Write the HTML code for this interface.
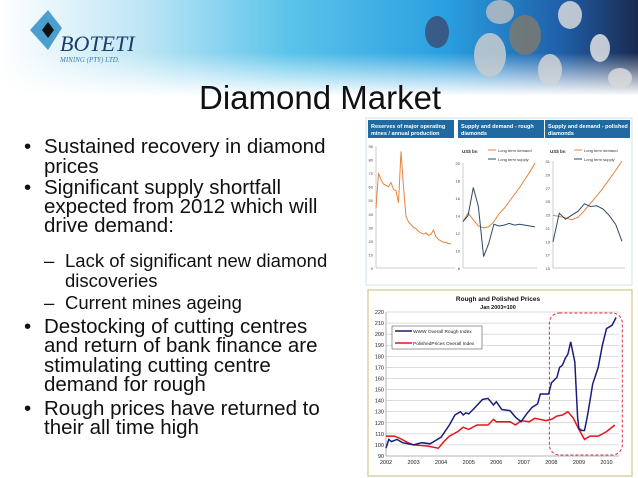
<!DOCTYPE html>
<html><head><meta charset="utf-8"><style>
body{margin:0;width:638px;height:478px;overflow:hidden;background:#fff;font-family:"Liberation Sans",sans-serif;position:relative}
.t{position:absolute;white-space:nowrap;color:#111;font-size:20.5px;line-height:20px}
.s{font-size:18.5px}
</style></head><body>
<svg width="638" height="478" style="position:absolute;left:0;top:0">
<defs>
<linearGradient id="bg" x1="0" x2="1" y1="0" y2="0"><stop offset="0" stop-color="#fff"/><stop offset="0.22" stop-color="#bfe6f5"/><stop offset="0.45" stop-color="#5cc4ea"/><stop offset="0.7" stop-color="#2a9fe0"/><stop offset="0.88" stop-color="#1f5fa8"/><stop offset="1" stop-color="#1a2a50"/></linearGradient>
<linearGradient id="fade" x1="0" x2="0" y1="0" y2="1"><stop offset="0.55" stop-color="#fff" stop-opacity="0"/><stop offset="1" stop-color="#fff"/></linearGradient>
</defs>
<rect x="0" y="0" width="638" height="95" fill="url(#bg)"/>
<rect x="0" y="0" width="638" height="96" fill="url(#fade)"/>
<g opacity="0.85">
<ellipse cx="437" cy="32" rx="12" ry="16" fill="#3a4f78"/>
<ellipse cx="490" cy="55" rx="16" ry="22" fill="#c8ccd0"/>
<ellipse cx="525" cy="35" rx="16" ry="20" fill="#7c7a70"/>
<ellipse cx="500" cy="12" rx="14" ry="12" fill="#b8bcc2"/>
<ellipse cx="570" cy="15" rx="12" ry="14" fill="#d8dadc"/>
<ellipse cx="550" cy="70" rx="12" ry="16" fill="#d0d4d8"/>
<ellipse cx="600" cy="48" rx="10" ry="14" fill="#e0e2e4"/>
<ellipse cx="620" cy="78" rx="12" ry="10" fill="#d8dadc"/>
</g>
<g>
<polygon points="48,10 62,28 48,50 30,30" fill="#4a9fd0"/>
<polygon points="48,22 54,30 48,38 42,30" fill="#111"/>
<text x="60" y="51" font-family="Liberation Serif" font-size="22" font-style="italic" fill="#1a3d6a">BOTETI</text>
<text x="60" y="62" font-family="Liberation Serif" font-size="7" font-style="italic" fill="#3a7bb0">MINING (PTY) LTD.</text>
</g>
</svg>
<div class="t" style="left:199px;top:80px;font-size:33px;line-height:36px">Diamond Market</div>
<div>
<div class="t" style="left:24px;top:137px">•</div>
<div class="t" style="left:44px;top:137px">Sustained recovery in diamond</div>
<div class="t" style="left:44px;top:157px">prices</div>
<div class="t" style="left:24px;top:178px">•</div>
<div class="t" style="left:44px;top:178px">Significant supply shortfall</div>
<div class="t" style="left:44px;top:197px">expected from 2012 which will</div>
<div class="t" style="left:44px;top:216px">drive demand:</div>
<div class="t s" style="left:44px;top:251px">–</div>
<div class="t s" style="left:65px;top:251px">Lack of significant new diamond</div>
<div class="t s" style="left:65px;top:271px">discoveries</div>
<div class="t s" style="left:44px;top:293px">–</div>
<div class="t s" style="left:65px;top:293px">Current mines ageing</div>
<div class="t" style="left:24px;top:317px">•</div>
<div class="t" style="left:44px;top:317px">Destocking of cutting centres</div>
<div class="t" style="left:44px;top:336px">and return of bank finance are</div>
<div class="t" style="left:44px;top:356px">stimulating cutting centre</div>
<div class="t" style="left:44px;top:375px">demand for rough</div>
<div class="t" style="left:24px;top:399px">•</div>
<div class="t" style="left:44px;top:399px">Rough prices have returned to</div>
<div class="t" style="left:44px;top:418px">their all time high</div>
</div>
<svg id="topsvg" width="638" height="478" style="position:absolute;left:0;top:0"></svg>
<svg id="mainsvg" width="638" height="478" style="position:absolute;left:0;top:0"></svg>
<script>
// Top panel data
const resYears=[0,1,2,3,4,5,6,7,8,9,10,11,12,13,14,15,16,17,18,19,20,21,22,23,24,25,26,27,28,29,30];
const resValues=[44,70,65,62,61,60,63,58,57,48,86,60,38,34,32,30,29,27,26,25,26,24,25,28,23,21,20,19,19,18,18];
const roughDemand=[13.3,14.3,13.5,12.8,12.6,12.7,13.3,14.2,14.8,15.6,16.4,17.2,18.1,19.0,20.0];
const roughSupply=[13.3,14.0,17.2,15.0,9.3,10.8,13.0,12.8,12.9,13.1,12.9,13.0,12.9,12.8,12.7];
const polDemand=[22.9,22.7,22.5,22.2,22.6,23.6,24.7,25.8,27.0,28.3,29.6,31.0];
const polSupply=[18.9,23.2,22.3,22.9,23.5,24.6,24.2,24.3,23.8,22.8,21.5,19.0];
// Main chart data
const roughX=[2002,2002.1,2002.2,2002.4,2002.6,2003,2003.3,2003.6,2003.8,2004,2004.3,2004.5,2004.7,2004.8,2004.9,2005,2005.2,2005.5,2005.7,2005.9,2006,2006.2,2006.5,2006.7,2006.9,2007.1,2007.3,2007.5,2007.6,2007.9,2008,2008.2,2008.3,2008.4,2008.5,2008.6,2008.7,2008.85,2008.95,2009,2009.1,2009.2,2009.3,2009.4,2009.5,2009.7,2009.85,2010,2010.2,2010.35];
const roughY=[97,105,103,105,102,100,102,101,104,107,118,127,130,127,129,128,133,141,142,136,139,132,131,125,121,128,134,137,146,146,156,161,170,172,178,182,193,175,125,115,113,113,125,140,155,170,190,205,208,215];
const polX=[2002,2002.3,2002.5,2002.8,2003,2003.5,2003.9,2004.1,2004.3,2004.6,2004.8,2005,2005.3,2005.7,2005.9,2006,2006.5,2006.7,2006.9,2007.2,2007.4,2007.8,2008,2008.2,2008.4,2008.6,2008.8,2009,2009.2,2009.4,2009.7,2010,2010.3];
const polY=[108,108,106,102,100,99,97,103,108,112,116,114,118,118,123,121,121,118,122,121,124,122,123,126,127,130,124,114,105,108,108,112,118];
const yTicks=[90,100,110,120,130,140,150,160,170,180,190,200,210,220];
const xTicks=[2002,2003,2004,2005,2006,2007,2008,2009,2010];

const NS="http://www.w3.org/2000/svg";
function mk(p,tag,a,txt){const e=document.createElementNS(NS,tag);for(const k in a)e.setAttribute(k,a[k]);if(txt!==undefined)e.textContent=txt;p.appendChild(e);return e;}
function drawLine(p,xs,ys,fx,fy,c,w,name){const d=xs.map((x,i)=>(i?'L':'M')+fx(x).toFixed(1)+','+fy(ys[i]).toFixed(1)).join('');const e=mk(p,'path',{d:d,fill:'none',stroke:c,'stroke-width':w});


return e;}

// ---- top panels
const tp=document.getElementById('topsvg');
mk(tp,'rect',{x:366,y:118,width:266,height:167,fill:'#fff',stroke:'#cfe0ea'});
const heads=[[368,'Reserves of major operating','mines / annual production'],[458,'Supply and demand - rough','diamonds'],[545,'Supply and demand - polished','diamonds']];
heads.forEach((h,i)=>{const g=mk(tp,'g',{});


mk(g,'rect',{x:h[0],y:120,width:i==2?85:86,height:18,fill:'#1f6aa0'});
mk(g,'text',{x:h[0]+3,y:128,'font-size':5.5,fill:'#fff','font-weight':'bold'},h[1]);
mk(g,'text',{x:h[0]+3,y:135,'font-size':5.5,fill:'#fff','font-weight':'bold'},h[2]);});
// panel 1
const fx1=i=>376+i*(451-376)/30, fy1=v=>268-v*(268-146)/90;
mk(tp,'line',{x1:376,y1:146,x2:376,y2:268,stroke:'#999','stroke-width':0.5});
mk(tp,'line',{x1:376,y1:268,x2:455,y2:268,stroke:'#999','stroke-width':0.5});
[0,10,20,30,40,50,60,70,80,90].forEach(v=>mk(tp,'text',{x:373,y:fy1(v)+2,'font-size':4,'text-anchor':'end',fill:'#444'},v));
drawLine(tp,resYears,resValues,fx1,fy1,'#e8833a',1,'reserves-line');
// panel 2
const fx2=i=>463+i*(535-463)/14, fy2=v=>268-(v-8)*(268-163)/12;
mk(tp,'line',{x1:463,y1:163,x2:463,y2:268,stroke:'#999','stroke-width':0.5});
mk(tp,'line',{x1:463,y1:268,x2:537,y2:268,stroke:'#999','stroke-width':0.5});
[8,10,12,14,16,18,20].forEach(v=>mk(tp,'text',{x:460,y:fy2(v)+2,'font-size':4,'text-anchor':'end',fill:'#444'},v));
mk(tp,'text',{x:462,y:153,'font-size':4.5,'font-weight':'bold',fill:'#333'},'US$ bn');
mk(tp,'line',{x1:488,y1:150,x2:496,y2:150,stroke:'#e8833a'});mk(tp,'text',{x:498,y:152,'font-size':4,fill:'#333'},'Long term demand');
mk(tp,'line',{x1:488,y1:159,x2:496,y2:159,stroke:'#2d4a66'});mk(tp,'text',{x:498,y:161,'font-size':4,fill:'#333'},'Long term supply');
drawLine(tp,roughDemand.map((v,i)=>i),roughDemand,fx2,fy2,'#e8833a',1,'rough-demand-line');
drawLine(tp,roughSupply.map((v,i)=>i),roughSupply,fx2,fy2,'#2d4a66',1,'rough-supply-line');
// panel 3
const fx3=i=>553+i*(622-553)/11, fy3=v=>268-(v-15)*(268-161)/16;
mk(tp,'line',{x1:553,y1:161,x2:553,y2:268,stroke:'#999','stroke-width':0.5});
mk(tp,'line',{x1:553,y1:268,x2:625,y2:268,stroke:'#999','stroke-width':0.5});
[15,17,19,21,23,25,27,29,31].forEach(v=>mk(tp,'text',{x:550,y:fy3(v)+2,'font-size':4,'text-anchor':'end',fill:'#444'},v));
mk(tp,'text',{x:550,y:153,'font-size':4.5,'font-weight':'bold',fill:'#333'},'US$ bn');
mk(tp,'line',{x1:574,y1:150,x2:582,y2:150,stroke:'#e8833a'});mk(tp,'text',{x:584,y:152,'font-size':4,fill:'#333'},'Long term demand');
mk(tp,'line',{x1:574,y1:159,x2:582,y2:159,stroke:'#2d4a66'});mk(tp,'text',{x:584,y:161,'font-size':4,fill:'#333'},'Long term supply');
drawLine(tp,polDemand.map((v,i)=>i),polDemand,fx3,fy3,'#e8833a',1,'polished-demand-line');
drawLine(tp,polSupply.map((v,i)=>i),polSupply,fx3,fy3,'#2d4a66',1,'polished-supply-line');

// ---- main chart
const ms=document.getElementById('mainsvg');
mk(ms,'rect',{x:368,y:290,width:264,height:186,fill:'#fff',stroke:'#d8d4a0','stroke-width':1.5});
const X0=386,X1=606.5,Y0=456,Y1=312;
const fx=v=>X0+(v-2002)*(X1-X0)/8, fy=v=>Y0-(v-90)*(Y0-Y1)/130;
mk(ms,'text',{x:498,y:301,'font-size':6.5,'font-weight':'bold','text-anchor':'middle',fill:'#111'},'Rough and Polished Prices');
mk(ms,'text',{x:498,y:309,'font-size':5.5,'font-weight':'bold','text-anchor':'middle',fill:'#111'},'Jan 2003=100');
yTicks.forEach(v=>{const g=mk(ms,'g',{});


mk(g,'line',{x1:X0,x2:619,y1:fy(v),y2:fy(v),stroke:v==90?'#666':'#bbb','stroke-width':0.5});
mk(g,'text',{x:X0-2,y:fy(v)+2,'font-size':5.5,'text-anchor':'end',fill:'#222'},v);});
mk(ms,'line',{x1:X0,x2:X0,y1:Y1,y2:Y0,stroke:'#666','stroke-width':0.5});
xTicks.forEach(v=>{const t=mk(ms,'text',{x:fx(v),y:Y0+8,'font-size':5.5,'text-anchor':'middle',fill:'#222'},v);

});
mk(ms,'rect',{x:fx(2008)-2,y:313,width:fx(2010.5)-fx(2008)+4,height:142,rx:10,fill:'none',stroke:'#e03040','stroke-width':1,'stroke-dasharray':'3,2'});
const lg=mk(ms,'g',{});


mk(lg,'rect',{x:392,y:326,width:90,height:23,fill:'#fff',stroke:'#333','stroke-width':0.5});
mk(lg,'line',{x1:395,x2:412,y1:331,y2:331,stroke:'#1c1c7a','stroke-width':1.5});
mk(lg,'text',{x:413,y:333,'font-size':4.8,fill:'#222'},'WWW Overall Rough Index');
mk(lg,'line',{x1:395,x2:412,y1:343,y2:343,stroke:'#e8131b','stroke-width':1.5});
mk(lg,'text',{x:413,y:345,'font-size':4.8,fill:'#222'},'PolishedPrices Overall Index');
drawLine(ms,polX,polY,fx,fy,'#e8131b',1.5,'polished-index-line');
drawLine(ms,roughX,roughY,fx,fy,'#1c1c7a',1.5,'rough-index-line');
</script>
</body></html>
